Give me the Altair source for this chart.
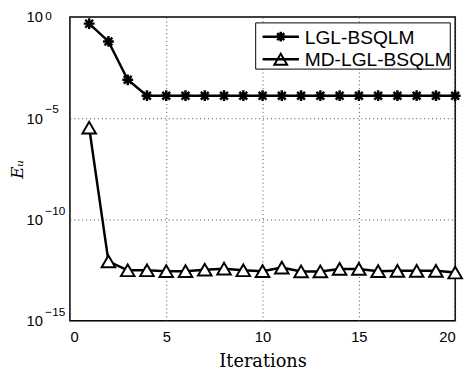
import altair as alt
import pandas as pd

series_names = ["LGL-BSQLM", "MD-LGL-BSQLM"]
iterations = [1, 2, 3, 4, 5, 6, 7, 8, 9, 10, 11, 12, 13, 14, 15, 16, 17, 18, 19, 20]
lgl_bsqlm = [0.47, 0.062, 7.9e-4, 1.3e-4, 1.3e-4, 1.3e-4, 1.3e-4, 1.3e-4, 1.3e-4, 1.3e-4,
             1.3e-4, 1.3e-4, 1.3e-4, 1.3e-4, 1.3e-4, 1.3e-4, 1.3e-4, 1.3e-4, 1.3e-4, 1.3e-4]
md_lgl_bsqlm = [3.4e-6, 8.5e-13, 3.1e-13, 3.1e-13, 2.8e-13, 2.8e-13, 3.3e-13, 3.7e-13, 3.1e-13, 2.8e-13,
                4.2e-13, 2.7e-13, 2.7e-13, 3.6e-13, 3.6e-13, 2.8e-13, 2.9e-13, 2.9e-13, 2.9e-13, 2.4e-13]
x_ticks = [0, 5, 10, 15, 20]
y_ticks = [1e-15, 1e-10, 1e-5, 1]
y_exponents = ["−15", "−10", "−5", "0"]

rows = []
for i, v in zip(iterations, lgl_bsqlm):
    rows.append({"iteration": i, "value": v, "series": series_names[0]})
for i, v in zip(iterations, md_lgl_bsqlm):
    rows.append({"iteration": i, "value": v, "series": series_names[1]})
df = pd.DataFrame(rows)
exp_df = pd.DataFrame({"value": y_ticks, "exp": y_exponents})
legend_df = pd.DataFrame({"series": series_names})

star_path = "M0,-1L0,1M-1,0L1,0M-0.72,-0.72L0.72,0.72M-0.72,0.72L0.72,-0.72"

x_scale = alt.Scale(domain=[0, 20], nice=False, zero=False)
y_scale = alt.Scale(type="log", domain=[1e-15, 1], nice=False)

x_enc = alt.X("iteration:Q", scale=x_scale,
              axis=alt.Axis(values=x_ticks, title="Iterations", format="d",
                            titleFont="DejaVu Serif", titleFontSize=18, titleFontWeight="normal",
                            titlePadding=9, labelPadding=9))
y_enc = alt.Y("value:Q", scale=y_scale,
              axis=alt.Axis(values=y_ticks, title="Eᵤ", labelExpr="'10'",
                            titleFont="DejaVu Serif", titleFontStyle="italic", titleFontSize=17,
                            titleFontWeight="normal", titlePadding=0, labelPadding=28))

base = alt.Chart(df)

lines = base.mark_line(color="black", strokeWidth=2.5).encode(
    x=x_enc, y=y_enc, detail="series:N")

stars = base.transform_filter(alt.datum.series == series_names[0]).mark_point(
    shape=star_path, size=121, stroke="black", strokeWidth=2.5, filled=False, opacity=1
).encode(x=x_enc, y=y_enc)

tris = base.transform_filter(alt.datum.series == series_names[1]).mark_point(
    shape="triangle-up", size=190, fill="white", stroke="black", strokeWidth=2,
    filled=True, opacity=1
).encode(x=x_enc, y=y_enc)

exp_base = alt.Chart(exp_df)
exps_low = exp_base.transform_filter("datum.value < 0.5").mark_text(
    align="left", baseline="middle", font="Liberation Sans", fontSize=12, color="black", dy=-9
).encode(x=alt.value(-25), y=alt.Y("value:Q", scale=y_scale), text="exp:N")
exps_top = exp_base.transform_filter("datum.value >= 0.5").mark_text(
    align="left", baseline="top", font="Liberation Sans", fontSize=12, color="black", dy=-6
).encode(x=alt.value(-25), y=alt.Y("value:Q", scale=y_scale), text="exp:N")

# legend (box, markers, sample lines, labels)
leg = alt.Chart(legend_df)
leg_box = leg.transform_filter(alt.datum.series == series_names[0]).mark_rect(
    fill="white", stroke="black", strokeWidth=1
).encode(x=alt.value(189), x2=alt.value(387), y=alt.value(6), y2=alt.value(53))

leg_layers = [leg_box]
for name, ypix, mk in [(series_names[0], 20, "star"), (series_names[1], 43, "tri")]:
    sub = leg.transform_filter(alt.datum.series == name)
    if mk == "star":
        leg_layers.append(sub.mark_point(
            shape=star_path, size=100, stroke="black", strokeWidth=2.5, filled=False, opacity=1
        ).encode(x=alt.value(214.5), y=alt.value(ypix)))
    else:
        leg_layers.append(sub.mark_point(
            shape="triangle-up", size=170, fill="white", stroke="black", strokeWidth=2,
            filled=True, opacity=1
        ).encode(x=alt.value(214.5), y=alt.value(ypix)))
    leg_layers.append(sub.mark_rule(color="black", strokeWidth=2.5).encode(
        x=alt.value(196), x2=alt.value(233), y=alt.value(ypix)))
    leg_layers.append(sub.mark_text(
        align="left", baseline="middle", font="Liberation Sans", fontSize=19.5, color="black"
    ).encode(x=alt.value(239), y=alt.value(ypix + 1), text="series:N"))

chart = alt.layer(lines, stars, tris, exps_low, exps_top, *leg_layers).properties(
    width=392, height=309,
    autosize=alt.AutoSizeParams(type="none"),
    padding={"left": 63, "top": 6, "right": 11, "bottom": 47},
).configure_view(
    stroke="black", strokeWidth=1.5
).configure_axis(
    labelFont="Liberation Sans", labelFontSize=15, labelColor="black",
    titleColor="black", domain=False, ticks=False,
    grid=True, gridColor="#444", gridDash=[1, 3], gridWidth=1, gridOpacity=1
)

chart.save("out.html", embed_options={"renderer": "svg", "actions": False})
